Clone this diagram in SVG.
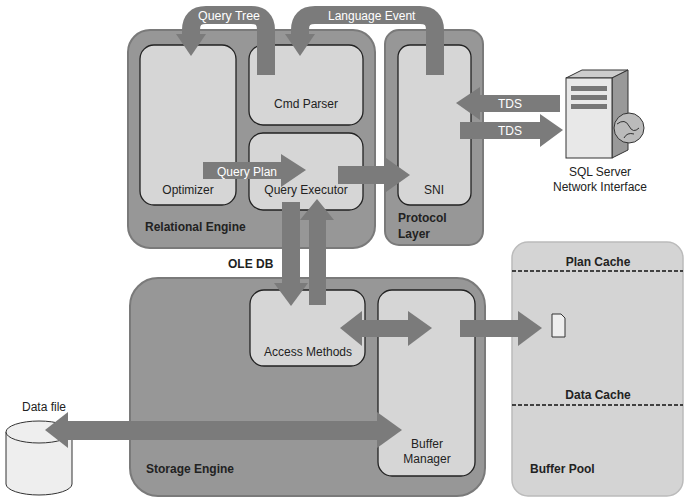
<svg xmlns="http://www.w3.org/2000/svg" width="688" height="502" viewBox="0 0 688 502">
<style>
text{font-family:"Liberation Sans Narrow","Liberation Sans",Arial,sans-serif;font-size:12px;fill:#222}
.b{font-weight:bold}
.w{fill:#fff}
.outer{fill:#979797;stroke:#7a7a7a;stroke-width:2}
.inner{fill:#d6d6d6;stroke:#222;stroke-width:1.3}
.ar{fill:#7b7b7b}
.cv{fill:none;stroke:#7b7b7b;stroke-width:18}
</style>
<rect width="688" height="502" fill="#fff"/>
<g id="relational-engine"><rect class="outer" x="128" y="30" width="247" height="218" rx="22"/><text class="b" x="145" y="231">Relational Engine</text></g>
<g id="optimizer"><rect class="inner" x="140" y="45" width="96" height="160" rx="14"/><text x="188" y="194" text-anchor="middle">Optimizer</text></g>
<g id="cmd-parser"><rect class="inner" x="249" y="45" width="114" height="80" rx="14"/><text x="306" y="108" text-anchor="middle">Cmd Parser</text></g>
<g id="query-executor"><rect class="inner" x="249" y="133" width="114" height="77" rx="14"/><text x="306" y="194" text-anchor="middle">Query Executor</text></g>
<g id="protocol-layer"><rect class="outer" x="385" y="30" width="98" height="215" rx="14"/><text class="b" x="398" y="222">Protocol</text><text class="b" x="398" y="238">Layer</text></g>
<g id="sni"><rect class="inner" x="398" y="45" width="73" height="160" rx="12"/><text x="434" y="194" text-anchor="middle">SNI</text></g>
<g id="storage-engine"><rect class="outer" x="130" y="278" width="355" height="218" rx="28" fill="#8c8c8c"/><text class="b" x="146" y="473">Storage Engine</text></g>
<g id="access-methods"><rect class="inner" x="250" y="290" width="115" height="76" rx="14"/><text x="308" y="356" text-anchor="middle">Access Methods</text></g>
<g id="buffer-manager"><rect class="inner" x="378" y="290" width="97" height="186" rx="14"/><text x="427" y="448" text-anchor="middle">Buffer</text><text x="427" y="463" text-anchor="middle">Manager</text></g>
<g id="buffer-pool"><rect x="512" y="242" width="171" height="254" rx="16" fill="#d4d4d4" stroke="#bbb" stroke-width="1.5"/>
<text class="b" x="598" y="266" text-anchor="middle">Plan Cache</text>
<line x1="512" y1="271" x2="683" y2="271" stroke="#111" stroke-width="1.5" stroke-dasharray="4,2"/>
<text class="b" x="598" y="399" text-anchor="middle">Data Cache</text>
<line x1="512" y1="405" x2="683" y2="405" stroke="#111" stroke-width="1.5" stroke-dasharray="4,2"/>
<text class="b" x="530" y="473">Buffer Pool</text>
<path d="M552 314h9l4 4v19h-13z" fill="#eee" stroke="#333" stroke-width="1"/></g>
<g id="data-file"><path d="M6 432v52a33 11 0 0 0 66 0v-52" fill="#eee" stroke="#333"/><ellipse cx="39" cy="432" rx="33" ry="11" fill="#eee" stroke="#333"/><text x="22" y="411">Data file</text></g>
<g id="sql-server-ni">
<path d="M566 78l16-8h46l-16 8z" fill="#ccc" stroke="#333"/>
<path d="M612 78l16-8v80l-16 8z" fill="#999" stroke="#333"/>
<rect x="566" y="78" width="46" height="80" fill="#e8e8e8" stroke="#333"/>
<rect x="571" y="86" width="36" height="5" fill="#777"/><rect x="571" y="95" width="36" height="5" fill="#777"/><rect x="571" y="104" width="36" height="5" fill="#777"/>
<circle cx="629" cy="128" r="15" fill="#bbb" stroke="#333"/><path d="M617 124q8-6 12 2t10 2M624 138q3-6 10-4" fill="none" stroke="#333"/>
<text x="600" y="176" text-anchor="middle">SQL Server</text><text x="600" y="191" text-anchor="middle">Network Interface</text></g>
<g id="connectors">
<path class="cv" d="M266 75V30q0-15-15-15h-45q-15 0-15 15v4"/>
<polygon class="ar" points="176,34 206,34 191,56"/>
<path class="cv" d="M435 75V30q0-15-15-15h-105q-15 0-15 15v4"/>
<polygon class="ar" points="285,34 315,34 300,56"/>
<rect class="ar" x="203" y="162" width="80" height="17"/><polygon class="ar" points="281,154 306,170 281,187"/>
<rect class="ar" x="338" y="166" width="50" height="18"/><polygon class="ar" points="386,158 410,175 386,192"/>
<rect class="ar" x="478" y="95" width="82" height="17"/><polygon class="ar" points="480,87 456,103 480,120"/>
<rect class="ar" x="460" y="122" width="82" height="17"/><polygon class="ar" points="540,114 563,130 540,147"/>
<rect class="ar" x="282" y="202" width="18" height="83"/><polygon class="ar" points="274,283 308,283 291,306"/>
<rect class="ar" x="309" y="218" width="17" height="87"/><polygon class="ar" points="300,220 334,220 317,199"/>
<rect class="ar" x="360" y="320" width="50" height="17"/><polygon class="ar" points="362,311 340,328 362,346"/><polygon class="ar" points="408,311 432,328 408,346"/>
<rect class="ar" x="460" y="320" width="60" height="17"/><polygon class="ar" points="518,311 542,328 518,346"/>
<rect class="ar" x="65" y="421" width="315" height="19"/><polygon class="ar" points="68,412 45,430 68,448"/><polygon class="ar" points="377,412 402,430 377,448"/>
</g>
<text class="w" x="198" y="20" textLength="62" lengthAdjust="spacingAndGlyphs">Query Tree</text>
<text class="w" x="328" y="20">Language Event</text>
<text class="w" x="217" y="176">Query Plan</text>
<text class="w" x="498" y="108">TDS</text>
<text class="w" x="498" y="135">TDS</text>
<text class="b" x="228" y="268">OLE DB</text>
</svg>
